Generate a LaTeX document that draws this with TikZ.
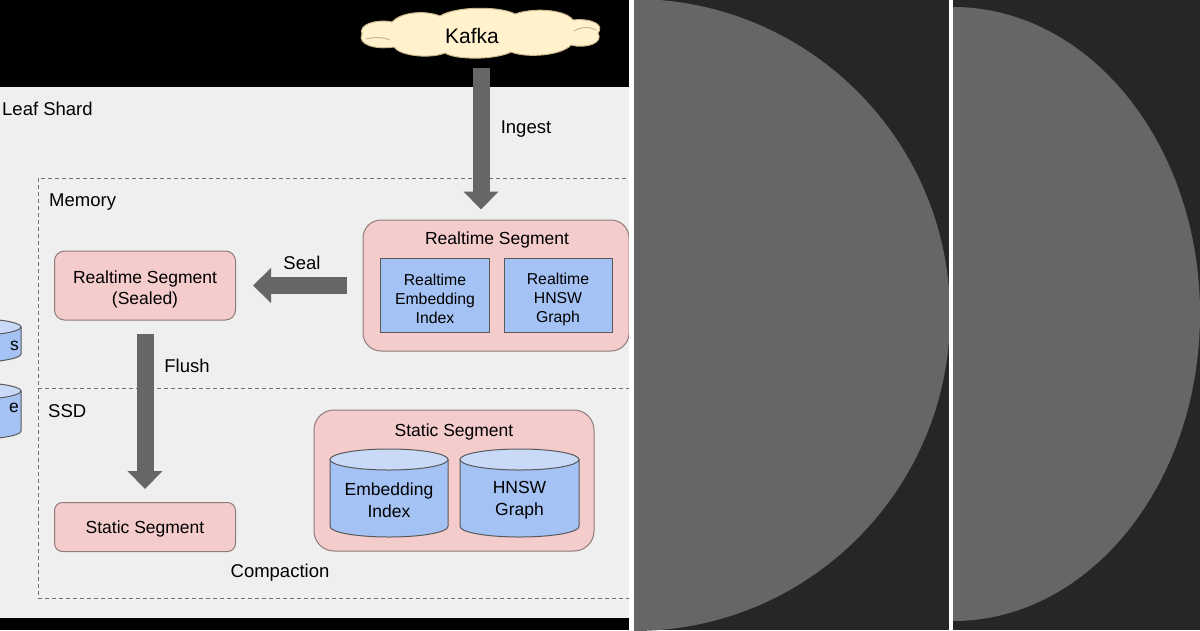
\documentclass[tikz,border=0pt]{standalone}
\usepackage{fontspec}
\setmainfont{Liberation Sans}
\usetikzlibrary{arrows.meta}
\definecolor{panelgray}{HTML}{EFEFEF}
\definecolor{pinkfill}{HTML}{F4CCCC}
\definecolor{pinkline}{HTML}{8E7B7B}
\definecolor{bluefill}{HTML}{A4C2F4}
\definecolor{bluetop}{HTML}{C9DAF8}
\definecolor{blueline}{HTML}{595959}
\definecolor{arrowgray}{HTML}{666666}
\definecolor{dashgray}{HTML}{707070}
\definecolor{cloudfill}{HTML}{FFF2CC}
\definecolor{cloudline}{HTML}{C9B68A}
\definecolor{darkpanel}{HTML}{262626}
\definecolor{midgray}{HTML}{666666}
\newcommand{\mycyl}[5]{%
  \filldraw[fill=bluefill,draw=blueline,line width=1pt] ({#1-#2},-#3) -- ({#1-#2},-#4) arc[start angle=180,end angle=360,x radius=#2,y radius=#5] -- ({#1+#2},-#3) -- cycle;
  \filldraw[fill=bluetop,draw=blueline,line width=1pt] (#1,-#3) ellipse[x radius=#2,y radius=#5];
}
\tikzset{
  pinkbox/.style={draw=pinkline,fill=pinkfill,line width=1pt,inner sep=0pt},
  bluebox/.style={draw=blueline,fill=bluefill,line width=1pt,inner sep=0pt},
  boxtext/.style={inner sep=0pt,align=center,font=\fontsize{17.5}{21}\selectfont},
  innertext/.style={inner sep=0pt,align=center,font=\fontsize{15.8}{19}\selectfont},
  lbl/.style={inner sep=0pt,font=\fontsize{18.5}{22}\selectfont},
  ttl/.style={inner sep=0pt,font=\fontsize{17.5}{21}\selectfont},
  cyltext/.style={inner sep=0pt,align=center,font=\fontsize{17.5}{22}\selectfont},
  bigarrow/.style={draw=arrowgray,line width=17pt,-{Triangle[width=34pt,length=18pt]}},
  dashedline/.style={draw=dashgray,line width=1pt,dash pattern=on 4pt off 3pt},
  cloudshape/.style={draw=cloudline,fill=cloudfill,line width=1pt},
}
\begin{document}
\begin{tikzpicture}[x=1pt,y=1pt]
\useasboundingbox (0,0) rectangle (1200,-630);
% left background
\fill[black] (0,0) rectangle (629,-630);
\fill[panelgray] (0,-87) rectangle (629,-618);
% partial cylinders at the left edge
\begin{scope}
  \clip (0,-87) rectangle (629,-618);
  \mycyl{-38}{59}{327}{354}{9}
  \mycyl{-38}{59}{391}{431}{9}
\end{scope}
\node[cyltext,anchor=east] (partA) at (19,-346) {s};
\node[cyltext,anchor=east] (partB) at (19,-408) {e};
% dashed regions
\draw[dashedline] (640,-178) -- (38,-178) -- (38,-598) -- (640,-598);
\draw[dashedline] (38,-388) -- (640,-388);
% texts
\node[lbl,anchor=west] (leaf) at (2,-109) {Leaf Shard};
\node[lbl,anchor=west] (memory) at (49,-202) {Memory};
\node[lbl,anchor=west] (ssd) at (48,-411) {SSD};
% Kafka cloud
\draw[cloudshape] (362,-34)
  .. controls (358,-24) and (377,-19) .. (392,-22)
  .. controls (401,-12) and (425,-10) .. (440,-16)
  .. controls (456,-6) and (500,-6) .. (515,-14)
  .. controls (535,-7) and (566,-10) .. (573,-20)
  .. controls (592,-18) and (605,-25) .. (598,-33)
  .. controls (604,-43) and (586,-49) .. (571,-45)
  .. controls (561,-56) and (526,-58) .. (511,-52)
  .. controls (495,-60) and (456,-60) .. (445,-53)
  .. controls (430,-59) and (400,-56) .. (394,-47)
  .. controls (374,-50) and (357,-44) .. (362,-34) -- cycle;
\draw[draw=cloudline,line width=1pt] (366,-39) .. controls (374,-37) and (383,-37) .. (390,-40);
\draw[draw=cloudline,line width=1pt] (596,-30) .. controls (588,-26) and (580,-27) .. (574,-31);
\node[inner sep=0pt,font=\fontsize{21}{25}\selectfont] (kafka) at (472,-36) {Kafka};
\coordinate (kafkaout) at (481,-68);
% realtime segment
\node[pinkbox,rounded corners=18pt,minimum width=266pt,minimum height=131pt] (rt) at (496,-285.5) {};
\node[ttl] (rttitle) at (497,-240) {Realtime Segment};
\node[bluebox,minimum width=109pt,minimum height=74pt] (rtemb) at (435,-295.5) {};
\node[innertext] (rtembtext) at (435,-299) {Realtime\\Embedding\\Index};
\node[bluebox,minimum width=108pt,minimum height=74pt] (rthnsw) at (558,-295.5) {};
\node[innertext] (rthnswtext) at (558,-299) {Realtime\\HNSW\\Graph};
% sealed
\node[pinkbox,rounded corners=10pt,minimum width=181pt,minimum height=69pt] (sealed) at (145,-285.5) {};
\node[boxtext] (sealedtext) at (145,-289) {Realtime Segment\\(Sealed)};
% small static
\node[pinkbox,rounded corners=8pt,minimum width=181pt,minimum height=49pt] (static) at (145,-527) {};
\node[boxtext] (statictext) at (145,-529) {Static Segment};
% big static
\node[pinkbox,rounded corners=20pt,minimum width=280pt,minimum height=141pt] (bigstatic) at (454,-480.5) {};
\node[ttl] (bstitle) at (454,-432) {Static Segment};
\mycyl{389}{59}{459.5}{526.5}{10.5}
\mycyl{519.5}{59.5}{459.5}{526.5}{10.5}
\node[cyltext] (embidx) at (389,-500) {Embedding\\Index};
\node[cyltext] (hnswg) at (519.5,-500) {HNSW\\Graph};
% arrows
\draw[bigarrow,shorten >=10pt] (kafkaout) -- (kafkaout |- rt.north);
\draw[bigarrow,shorten <=16pt,shorten >=17pt] (rt.west) -- (sealed.east);
\draw[bigarrow,shorten <=13pt,shorten >=13pt] (sealed.south) -- (static.north);
% arrow labels
\node[lbl] (ingest) at (526,-129) {Ingest};
\node[lbl] (seal) at (302,-263) {Seal};
\node[lbl] (flush) at (187,-366) {Flush};
\node[lbl] (compaction) at (280,-573) {Compaction};
% right side panels
\fill[white] (629,0) rectangle (634,-630);
\fill[darkpanel] (634,0) rectangle (949,-630);
\begin{scope}
  \clip (634,0) rectangle (949,-630);
  \fill[midgray] (634,-315) circle[radius=316];
\end{scope}
\fill[white] (949,0) rectangle (953,-630);
\fill[darkpanel] (953,0) rectangle (1200,-630);
\begin{scope}
  \clip (953,0) rectangle (1200,-630);
  \fill[midgray] (953,-314) ellipse[x radius=247,y radius=307];
\end{scope}
\end{tikzpicture}
\end{document}
